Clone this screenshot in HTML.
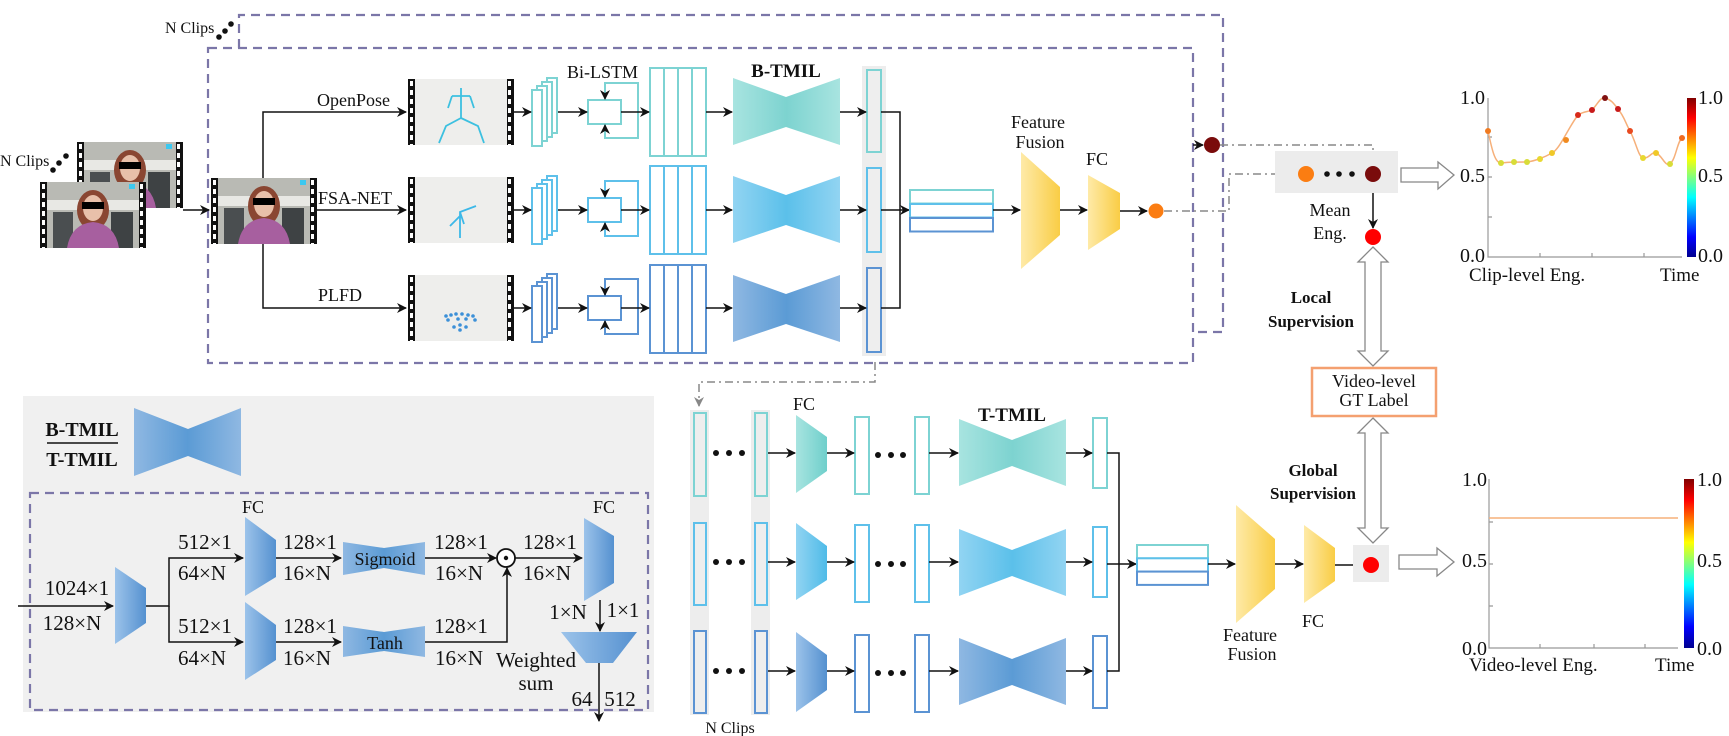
<!DOCTYPE html>
<html><head><meta charset="utf-8"><style>
html,body{margin:0;padding:0;background:#fff;}
svg{display:block;}
text{font-family:"Liberation Serif",serif;fill:#111;}
</style></head><body>
<svg width="1729" height="736" viewBox="0 0 1729 736" xmlns="http://www.w3.org/2000/svg">
<defs>
<marker id="ar" markerWidth="10" markerHeight="10" refX="9" refY="5" orient="auto" markerUnits="userSpaceOnUse"><path d="M0,0 L10,5 L0,10 L3,5 z" fill="#111"/></marker>
<marker id="ag" markerWidth="10" markerHeight="10" refX="9" refY="5" orient="auto" markerUnits="userSpaceOnUse"><path d="M0,0 L10,5 L0,10 L3,5 z" fill="#888"/></marker>
<pattern id="film" width="7" height="9" patternUnits="userSpaceOnUse"><rect width="7" height="9" fill="#111"/><rect x="2" y="2" width="3" height="5" fill="#fff"/></pattern>
<linearGradient id="g1" x1="0" x2="1"><stop offset="0" stop-color="#a8e4e0"/><stop offset="0.5" stop-color="#7dd3d0"/><stop offset="1" stop-color="#a8e4e0"/></linearGradient>
<linearGradient id="g2" x1="0" x2="1"><stop offset="0" stop-color="#92d4f2"/><stop offset="0.5" stop-color="#5bc0ea"/><stop offset="1" stop-color="#92d4f2"/></linearGradient>
<linearGradient id="g3" x1="0" x2="1"><stop offset="0" stop-color="#8fb8e2"/><stop offset="0.5" stop-color="#5b9bd5"/><stop offset="1" stop-color="#8fb8e2"/></linearGradient>
<linearGradient id="t1" x1="0" x2="1"><stop offset="0" stop-color="#a8e4e0"/><stop offset="1" stop-color="#6fcfcb"/></linearGradient>
<linearGradient id="t2" x1="0" x2="1"><stop offset="0" stop-color="#92d4f2"/><stop offset="1" stop-color="#4fbbe8"/></linearGradient>
<linearGradient id="t3" x1="0" x2="1"><stop offset="0" stop-color="#9cc3ea"/><stop offset="1" stop-color="#5591d0"/></linearGradient>
<linearGradient id="ty" x1="0" x2="1"><stop offset="0" stop-color="#feeaa8"/><stop offset="1" stop-color="#f9cd45"/></linearGradient>
<linearGradient id="jet" x1="0" y1="1" x2="0" y2="0"><stop offset="0" stop-color="#00008f"/><stop offset="0.125" stop-color="#0000ff"/><stop offset="0.375" stop-color="#00ffff"/><stop offset="0.625" stop-color="#ffff00"/><stop offset="0.875" stop-color="#ff0000"/><stop offset="1" stop-color="#800000"/></linearGradient>
<g id="photo">
<rect x="0" y="0" width="92" height="66" fill="#b9bab4"/>
<rect x="0" y="18" width="92" height="10" fill="#e8e8e4"/>
<rect x="6" y="30" width="20" height="36" fill="#4a4e50"/>
<rect x="64" y="30" width="22" height="36" fill="#3e4244"/>
<rect x="82" y="2" width="6" height="5" fill="#3cc8f0"/>
<ellipse cx="46" cy="28" rx="16" ry="20" fill="#8a4632"/>
<ellipse cx="46" cy="26" rx="10" ry="13" fill="#e8c0aa"/>
<rect x="35" y="20" width="22" height="7" fill="#000"/>
<path d="M20,66 Q24,42 46,40 Q68,42 72,66 z" fill="#a75f9f"/>
</g>
<g id="filmframe">
<rect x="0" y="0" width="106" height="66" fill="#eeeeec"/>
<rect x="0" y="0" width="7" height="66" fill="url(#film)"/>
<rect x="99" y="0" width="7" height="66" fill="url(#film)"/>
</g>
</defs>

<path d="M239,48 L239,15 L1223,15 L1223,332 L1193,332" fill="none" stroke="#7b76a8" stroke-width="2.2" stroke-dasharray="9,6"/>
<rect x="208" y="48" width="985" height="315" fill="none" stroke="#7b76a8" stroke-width="2.2" stroke-dasharray="9,6"/>

<text x="165" y="33" font-size="16">N Clips</text>
<circle cx="219" cy="37" r="2.8" fill="#111"/><circle cx="225" cy="31" r="2.8" fill="#111"/><circle cx="231" cy="24" r="2.8" fill="#111"/>
<text x="0" y="166" font-size="16">N Clips</text>
<circle cx="53" cy="170" r="2.8" fill="#111"/><circle cx="59" cy="163" r="2.8" fill="#111"/><circle cx="66" cy="156" r="2.8" fill="#111"/>

<g transform="translate(77,142)"><use href="#photo" transform="translate(7,0)"/><rect x="0" y="0" width="7" height="66" fill="url(#film)"/><rect x="99" y="0" width="7" height="66" fill="url(#film)"/></g>
<g transform="translate(40,182)"><use href="#photo" transform="translate(7,0)"/><rect x="0" y="0" width="7" height="66" fill="url(#film)"/><rect x="99" y="0" width="7" height="66" fill="url(#film)"/></g>
<line x1="183" y1="210" x2="209" y2="210" stroke="#111" stroke-width="1.5" marker-end="url(#ar)"/>
<g transform="translate(211,178)"><use href="#photo" transform="translate(7,0)"/><rect x="0" y="0" width="7" height="66" fill="url(#film)"/><rect x="99" y="0" width="7" height="66" fill="url(#film)"/></g>

<path d="M263,178 L263,112 L406,112" fill="none" stroke="#111" stroke-width="1.5" marker-end="url(#ar)"/>
<line x1="317" y1="210" x2="406" y2="210" stroke="#111" stroke-width="1.5" marker-end="url(#ar)"/>
<path d="M263,244 L263,308 L406,308" fill="none" stroke="#111" stroke-width="1.5" marker-end="url(#ar)"/>
<text x="317" y="106" font-size="18">OpenPose</text>
<text x="318" y="204" font-size="18">FSA-NET</text>
<text x="318" y="301" font-size="18">PLFD</text>

<use href="#filmframe" x="408" y="79"/>
<use href="#filmframe" x="408" y="177"/>
<use href="#filmframe" x="408" y="275"/>
<path d="M461,88 L461,96 M452,96 L470,96 M461,96 L461,118 L446,126 L439,143 M461,118 L478,126 L484,143 M452,96 L448,108 M470,96 L474,108" stroke="#3cc0e0" stroke-width="1.8" fill="none"/>
<path d="M460,238 L460,212 L476,206 M460,212 L464,224 M460,216 L450,226" stroke="#3cb8e8" stroke-width="1.8" fill="none"/>
<g fill="#3c90d8"><circle cx="446" cy="316" r="1.8"/><circle cx="451" cy="315" r="1.8"/><circle cx="456" cy="314" r="1.8"/><circle cx="462" cy="314" r="1.8"/><circle cx="468" cy="315" r="1.8"/><circle cx="473" cy="316" r="1.8"/><circle cx="448" cy="320" r="1.8"/><circle cx="458" cy="319" r="1.8"/><circle cx="466" cy="319" r="1.8"/><circle cx="475" cy="320" r="1.8"/><circle cx="460" cy="325" r="1.8"/><circle cx="454" cy="327" r="1.8"/><circle cx="466" cy="327" r="1.8"/><circle cx="460" cy="330" r="1.8"/></g>

<g stroke="#7dd3d3" stroke-width="2" fill="#fff">
<rect x="547" y="78" width="10" height="55"/><rect x="542" y="82" width="10" height="55"/><rect x="537" y="86" width="10" height="55"/><rect x="532" y="90" width="10" height="56"/>
<rect x="588" y="100" width="33" height="24"/>
<path d="M605,100 L605,83 L638,83 L638,138 L605,138 L605,124" fill="none"/>
<rect x="650" y="68" width="56" height="88" fill="none"/><path d="M664,68 V156 M678,68 V156 M692,68 V156"/>
</g>
<g stroke="#5ec0ea" stroke-width="2" fill="#fff">
<rect x="547" y="176" width="10" height="55"/><rect x="542" y="180" width="10" height="55"/><rect x="537" y="184" width="10" height="55"/><rect x="532" y="188" width="10" height="56"/>
<rect x="588" y="198" width="33" height="24"/>
<path d="M605,198 L605,181 L638,181 L638,236 L605,236 L605,222" fill="none"/>
<rect x="650" y="166" width="56" height="88" fill="none"/><path d="M664,166 V254 M678,166 V254 M692,166 V254"/>
</g>
<g stroke="#5b93d3" stroke-width="2" fill="#fff">
<rect x="547" y="274" width="10" height="55"/><rect x="542" y="278" width="10" height="55"/><rect x="537" y="282" width="10" height="55"/><rect x="532" y="286" width="10" height="56"/>
<rect x="588" y="296" width="33" height="24"/>
<path d="M605,296 L605,279 L638,279 L638,334 L605,334 L605,320" fill="none"/>
<rect x="650" y="265" width="56" height="88" fill="none"/><path d="M664,265 V353 M678,265 V353 M692,265 V353"/>
</g>
<text x="567" y="78" font-size="18">Bi-LSTM</text>
<text x="786" y="77" font-size="19" font-weight="bold" text-anchor="middle">B-TMIL</text>
<polygon points="733,78 786,97 840,78 840,145 786,127 733,145" fill="url(#g1)"/>
<polygon points="733,176 786,195 840,176 840,243 786,225 733,243" fill="url(#g2)"/>
<polygon points="733,275 786,294 840,275 840,342 786,324 733,342" fill="url(#g3)"/>
<rect x="862" y="66" width="24" height="290" fill="#ededed"/>
<rect x="867" y="70" width="14" height="82" fill="#eee" stroke="#7dd3d3" stroke-width="2"/>
<rect x="867" y="168" width="14" height="84" fill="#eee" stroke="#5ec0ea" stroke-width="2"/>
<rect x="867" y="268" width="14" height="84" fill="#eee" stroke="#5b93d3" stroke-width="2"/>
<g stroke="#111" stroke-width="1.5" marker-end="url(#ar)">
<line x1="514" y1="112" x2="531" y2="112"/><line x1="558" y1="112" x2="587" y2="112"/><line x1="621" y1="112" x2="649" y2="112"/><line x1="706" y1="112" x2="732" y2="112"/><line x1="840" y1="112" x2="866" y2="112"/>
<line x1="514" y1="210" x2="531" y2="210"/><line x1="558" y1="210" x2="587" y2="210"/><line x1="621" y1="210" x2="649" y2="210"/><line x1="706" y1="210" x2="732" y2="210"/><line x1="840" y1="210" x2="866" y2="210"/>
<line x1="514" y1="308" x2="531" y2="308"/><line x1="558" y1="308" x2="587" y2="308"/><line x1="621" y1="308" x2="649" y2="308"/><line x1="706" y1="308" x2="732" y2="308"/><line x1="840" y1="308" x2="866" y2="308"/>
</g>
<g stroke-width="1.3" marker-end="url(#ar)">
<line x1="605" y1="83" x2="605" y2="99" stroke="#7dd3d3"/><line x1="605" y1="138" x2="605" y2="125" stroke="#7dd3d3"/>
<line x1="605" y1="181" x2="605" y2="197" stroke="#5ec0ea"/><line x1="605" y1="236" x2="605" y2="223" stroke="#5ec0ea"/>
<line x1="605" y1="279" x2="605" y2="295" stroke="#5b93d3"/><line x1="605" y1="334" x2="605" y2="321" stroke="#5b93d3"/>
</g>
<path d="M881,112 H900 V308 H881" fill="none" stroke="#111" stroke-width="1.5"/>
<line x1="881" y1="210" x2="909" y2="210" stroke="#111" stroke-width="1.5" marker-end="url(#ar)"/>
<rect x="910" y="190" width="83" height="13.5" fill="#fff" stroke="#7dd3d3" stroke-width="2"/>
<rect x="910" y="204" width="83" height="13.5" fill="#fff" stroke="#5ec0ea" stroke-width="2"/>
<rect x="910" y="218" width="83" height="13.5" fill="#fff" stroke="#5b93d3" stroke-width="2"/>
<line x1="993" y1="210" x2="1020" y2="210" stroke="#111" stroke-width="1.5" marker-end="url(#ar)"/>
<text x="1038" y="128" font-size="18" text-anchor="middle">Feature</text>
<text x="1040" y="148" font-size="18" text-anchor="middle">Fusion</text>
<polygon points="1021,152 1060,187 1060,235 1021,269" fill="url(#ty)"/>
<line x1="1060" y1="210" x2="1087" y2="210" stroke="#111" stroke-width="1.5" marker-end="url(#ar)"/>
<text x="1097" y="165" font-size="18" text-anchor="middle">FC</text>
<polygon points="1088,175 1120,193 1120,229 1088,250" fill="url(#ty)"/>
<line x1="1120" y1="211" x2="1147" y2="211" stroke="#111" stroke-width="1.5" marker-end="url(#ar)"/>
<circle cx="1156" cy="211" r="7.5" fill="#fb7d12"/>
<path d="M1164,211 H1229 V174 H1296" fill="none" stroke="#888" stroke-width="1.5" stroke-dasharray="8,4,2,4" marker-end="url(#ag)"/>
<line x1="1193" y1="145" x2="1203" y2="145" stroke="#111" stroke-width="1.5" marker-end="url(#ar)"/>
<circle cx="1212" cy="145" r="8" fill="#7a0c0c"/>
<path d="M1220,145 H1373 V163" fill="none" stroke="#888" stroke-width="1.5" stroke-dasharray="8,4,2,4" marker-end="url(#ag)"/>
<rect x="1275" y="151" width="123" height="42" fill="#ececec"/>
<circle cx="1306" cy="174" r="8" fill="#fb7d12"/>
<circle cx="1327" cy="174" r="2.8" fill="#111"/><circle cx="1339" cy="174" r="2.8" fill="#111"/><circle cx="1352" cy="174" r="2.8" fill="#111"/>
<circle cx="1373" cy="174" r="8" fill="#7a0c0c"/>
<line x1="1373" y1="193" x2="1373" y2="228" stroke="#111" stroke-width="1.5" marker-end="url(#ar)"/>
<circle cx="1373" cy="237" r="8" fill="#f00"/>
<text x="1330" y="216" font-size="18" text-anchor="middle">Mean</text>
<text x="1330" y="239" font-size="18" text-anchor="middle">Eng.</text>
<polygon points="1373,247 1388,262 1381,262 1381,351 1388,351 1373,366 1358,351 1365,351 1365,262 1358,262" fill="#fff" stroke="#888" stroke-width="1.3"/>
<polygon points="1373,418 1388,433 1381,433 1381,528 1388,528 1373,543 1358,528 1365,528 1365,433 1358,433" fill="#fff" stroke="#888" stroke-width="1.3"/>
<text x="1311" y="303" font-size="17" font-weight="bold" text-anchor="middle">Local</text>
<text x="1311" y="327" font-size="17" font-weight="bold" text-anchor="middle">Supervision</text>
<text x="1313" y="476" font-size="17" font-weight="bold" text-anchor="middle">Global</text>
<text x="1313" y="499" font-size="17" font-weight="bold" text-anchor="middle">Supervision</text>
<rect x="1312" y="368" width="124" height="48" fill="#fff" stroke="#f4a070" stroke-width="2.5"/>
<text x="1374" y="387" font-size="18" text-anchor="middle">Video-level</text>
<text x="1374" y="406" font-size="18" text-anchor="middle">GT Label</text>
<polygon points="1401,168 1438,168 1438,162 1454,175 1438,189 1438,182 1401,182" fill="#fff" stroke="#888" stroke-width="1.3"/>
<polygon points="1399,555 1437,555 1437,548 1454,562 1437,576 1437,569 1399,569" fill="#fff" stroke="#888" stroke-width="1.3"/>

<g stroke="#999" stroke-width="1.2" fill="none"><path d="M1488,98 V257 H1682"/><path d="M1488,137 h4 M1488,177 h4 M1488,217 h4 M1540,257 v-4 M1592,257 v-4 M1644,257 v-4"/></g>
<text x="1485" y="104" font-size="20" text-anchor="end" fill="#333">1.0</text>
<text x="1485" y="182" font-size="20" text-anchor="end" fill="#333">0.5</text>
<text x="1485" y="262" font-size="20" text-anchor="end" fill="#333">0.0</text>
<rect x="1687" y="98" width="9" height="159" fill="url(#jet)"/>
<text x="1698" y="104" font-size="20" fill="#333">1.0</text>
<text x="1698" y="182" font-size="20" fill="#333">0.5</text>
<text x="1698" y="262" font-size="20" fill="#333">0.0</text>
<text x="1469" y="281" font-size="19" fill="#222">Clip-level Eng.</text>
<text x="1660" y="281" font-size="19" fill="#222">Time</text>
<path d="M1488,131 C1492,150 1495,163 1501,163 C1508,162 1520,162 1527,162 C1535,161 1545,157 1552,153 C1560,149 1568,128 1578,115 C1584,111 1588,112 1592,110 C1598,104 1600,97 1605,98 C1612,100 1614,104 1618,109 C1624,116 1626,124 1630,131 C1636,142 1638,156 1643,158 C1649,159 1652,151 1656,153 C1662,155 1665,167 1670,164 C1676,159 1677,142 1682,138" fill="none" stroke="#f6b07a" stroke-width="1.5"/>
<g>
<circle cx="1488" cy="131" r="3" fill="#f07a20"/><circle cx="1501" cy="163" r="3" fill="#d8dc38"/><circle cx="1514" cy="162" r="3" fill="#d8dc38"/><circle cx="1527" cy="162" r="3" fill="#d8dc38"/><circle cx="1540" cy="159" r="3" fill="#e8d830"/><circle cx="1552" cy="153" r="3" fill="#f0c828"/><circle cx="1566" cy="140" r="3" fill="#f08a20"/><circle cx="1578" cy="115" r="3" fill="#d82a1a"/><circle cx="1592" cy="110" r="3" fill="#c81a1a"/><circle cx="1605" cy="98" r="3" fill="#801010"/><circle cx="1618" cy="109" r="3" fill="#c81a1a"/><circle cx="1630" cy="131" r="3" fill="#e84a20"/><circle cx="1643" cy="158" r="3" fill="#e8d830"/><circle cx="1656" cy="153" r="3" fill="#f0c828"/><circle cx="1670" cy="164" r="3" fill="#d8dc38"/><circle cx="1682" cy="138" r="3" fill="#f06a20"/>
</g>
<g stroke="#999" stroke-width="1.2" fill="none"><path d="M1489,479 V648 H1678"/><path d="M1489,522 h4 M1489,564 h4 M1489,606 h4 M1540,648 v-4 M1594,648 v-4 M1645,648 v-4"/></g>
<line x1="1489" y1="518" x2="1678" y2="518" stroke="#f6b07a" stroke-width="1.5"/>
<text x="1487" y="486" font-size="20" text-anchor="end" fill="#333">1.0</text>
<text x="1487" y="567" font-size="20" text-anchor="end" fill="#333">0.5</text>
<text x="1487" y="655" font-size="20" text-anchor="end" fill="#333">0.0</text>
<rect x="1684" y="479" width="10" height="169" fill="url(#jet)"/>
<text x="1697" y="486" font-size="20" fill="#333">1.0</text>
<text x="1697" y="567" font-size="20" fill="#333">0.5</text>
<text x="1697" y="655" font-size="20" fill="#333">0.0</text>
<text x="1469" y="671" font-size="19" fill="#222">Video-level Eng.</text>
<text x="1655" y="671" font-size="19" fill="#222">Time</text>

<path d="M875,362 V382 H699 V406" fill="none" stroke="#888" stroke-width="1.5" stroke-dasharray="8,4,2,4" marker-end="url(#ag)"/>
<rect x="690" y="410" width="19" height="305" fill="#ededed"/>
<rect x="751" y="410" width="19" height="305" fill="#ededed"/>
<g fill="#eee" stroke-width="2">
<rect x="694" y="413" width="12" height="83" stroke="#7dd3d3"/><rect x="755" y="413" width="12" height="83" stroke="#7dd3d3"/>
<rect x="694" y="523" width="12" height="82" stroke="#5ec0ea"/><rect x="755" y="523" width="12" height="82" stroke="#5ec0ea"/>
<rect x="694" y="631" width="12" height="82" stroke="#5b93d3"/><rect x="755" y="631" width="12" height="82" stroke="#5b93d3"/>
</g>
<g fill="#fff" stroke-width="2">
<rect x="855" y="417" width="14" height="77" stroke="#7dd3d3"/><rect x="915" y="417" width="14" height="77" stroke="#7dd3d3"/><rect x="1093" y="418" width="14" height="70" stroke="#7dd3d3"/>
<rect x="855" y="525" width="14" height="77" stroke="#5ec0ea"/><rect x="915" y="525" width="14" height="77" stroke="#5ec0ea"/><rect x="1093" y="527" width="14" height="70" stroke="#5ec0ea"/>
<rect x="855" y="635" width="14" height="77" stroke="#5b93d3"/><rect x="915" y="635" width="14" height="77" stroke="#5b93d3"/><rect x="1093" y="636" width="14" height="72" stroke="#5b93d3"/>
</g>
<g fill="#111">
<circle cx="716" cy="453" r="3"/><circle cx="729" cy="453" r="3"/><circle cx="742" cy="453" r="3"/>
<circle cx="716" cy="562" r="3"/><circle cx="729" cy="562" r="3"/><circle cx="742" cy="562" r="3"/>
<circle cx="716" cy="671" r="3"/><circle cx="729" cy="671" r="3"/><circle cx="742" cy="671" r="3"/>
<circle cx="878" cy="455" r="3"/><circle cx="891" cy="455" r="3"/><circle cx="903" cy="455" r="3"/>
<circle cx="878" cy="564" r="3"/><circle cx="891" cy="564" r="3"/><circle cx="903" cy="564" r="3"/>
<circle cx="878" cy="673" r="3"/><circle cx="891" cy="673" r="3"/><circle cx="903" cy="673" r="3"/>
</g>
<polygon points="796,415 827,437 827,471 796,493" fill="url(#t1)"/>
<polygon points="796,523 827,546 827,580 796,600" fill="url(#t2)"/>
<polygon points="796,632 827,655 827,690 796,712" fill="url(#t3)"/>
<polygon points="959,419 1012,440 1066,419 1066,486 1012,466 959,486" fill="url(#g1)"/>
<polygon points="959,529 1012,550 1066,529 1066,596 1012,576 959,596" fill="url(#g2)"/>
<polygon points="959,638 1012,659 1066,638 1066,705 1012,685 959,705" fill="url(#g3)"/>
<text x="1012" y="421" font-size="19" font-weight="bold" text-anchor="middle">T-TMIL</text>
<text x="804" y="410" font-size="18" text-anchor="middle">FC</text>
<text x="730" y="733" font-size="16" text-anchor="middle">N Clips</text>
<g stroke="#111" stroke-width="1.5" marker-end="url(#ar)">
<line x1="768" y1="453" x2="795" y2="453"/><line x1="827" y1="453" x2="854" y2="453"/><line x1="929" y1="453" x2="958" y2="453"/><line x1="1066" y1="453" x2="1092" y2="453"/>
<line x1="768" y1="562" x2="795" y2="562"/><line x1="827" y1="562" x2="854" y2="562"/><line x1="929" y1="562" x2="958" y2="562"/><line x1="1066" y1="562" x2="1092" y2="562"/>
<line x1="768" y1="671" x2="795" y2="671"/><line x1="827" y1="671" x2="854" y2="671"/><line x1="929" y1="671" x2="958" y2="671"/><line x1="1066" y1="671" x2="1092" y2="671"/>
</g>
<path d="M1107,453 H1119 V671 H1107" fill="none" stroke="#111" stroke-width="1.5"/>
<line x1="1107" y1="564" x2="1136" y2="564" stroke="#111" stroke-width="1.5" marker-end="url(#ar)"/>
<rect x="1137" y="545" width="71" height="13.3" fill="#fff" stroke="#7dd3d3" stroke-width="2"/>
<rect x="1137" y="558.3" width="71" height="13.3" fill="#fff" stroke="#5ec0ea" stroke-width="2"/>
<rect x="1137" y="571.6" width="71" height="13.3" fill="#fff" stroke="#5b93d3" stroke-width="2"/>
<line x1="1208" y1="564" x2="1235" y2="564" stroke="#111" stroke-width="1.5" marker-end="url(#ar)"/>
<polygon points="1236,505 1275,539 1275,589 1236,623" fill="url(#ty)"/>
<text x="1250" y="641" font-size="18" text-anchor="middle">Feature</text>
<text x="1252" y="660" font-size="18" text-anchor="middle">Fusion</text>
<line x1="1275" y1="564" x2="1303" y2="564" stroke="#111" stroke-width="1.5" marker-end="url(#ar)"/>
<polygon points="1304,525 1335,548 1335,581 1304,603" fill="url(#ty)"/>
<text x="1313" y="627" font-size="18" text-anchor="middle">FC</text>
<line x1="1335" y1="565" x2="1362" y2="565" stroke="#111" stroke-width="1.5" marker-end="url(#ar)"/>
<rect x="1353" y="545" width="36" height="37" fill="#ececec"/>
<circle cx="1371" cy="565" r="8" fill="#f00"/>

<rect x="23" y="396" width="631" height="316" fill="#f0f0f0"/>
<text x="82" y="436" font-size="20" font-weight="bold" text-anchor="middle">B-TMIL</text>
<line x1="47" y1="443" x2="118" y2="443" stroke="#111" stroke-width="1.5"/>
<text x="82" y="466" font-size="20" font-weight="bold" text-anchor="middle">T-TMIL</text>
<polygon points="134,408 188,429 241,408 241,476 188,456 134,476" fill="url(#g3)"/>
<rect x="30" y="493" width="618" height="217" fill="none" stroke="#7b76a8" stroke-width="2.2" stroke-dasharray="9,6"/>
<text x="253" y="513" font-size="18" text-anchor="middle">FC</text>
<text x="604" y="513" font-size="18" text-anchor="middle">FC</text>
<g stroke="#111" stroke-width="1.5" fill="none">
<line x1="18" y1="606" x2="113" y2="606" marker-end="url(#ar)"/>
<path d="M146,606 H169 V558 H243" marker-end="url(#ar)"/>
<path d="M169,606 V642 H243" marker-end="url(#ar)"/>
<line x1="276" y1="558" x2="341" y2="558" marker-end="url(#ar)"/>
<line x1="276" y1="642" x2="341" y2="642" marker-end="url(#ar)"/>
<line x1="425" y1="558" x2="496" y2="558" marker-end="url(#ar)"/>
<path d="M425,642 H507 V568" marker-end="url(#ar)"/>
<line x1="515" y1="558" x2="582" y2="558" marker-end="url(#ar)"/>
<line x1="600" y1="600" x2="600" y2="631" marker-end="url(#ar)"/>
<line x1="599" y1="663" x2="599" y2="721" marker-end="url(#ar)"/>
</g>
<circle cx="506" cy="558" r="9" fill="#fff" stroke="#111" stroke-width="1.8"/>
<circle cx="506" cy="558" r="2.2" fill="#111"/>
<polygon points="115,567 146,588 146,623 115,644" fill="url(#t3)"/>
<polygon points="245,517 276,540 276,577 245,596" fill="url(#t3)"/>
<polygon points="245,602 276,625 276,660 245,680" fill="url(#t3)"/>
<polygon points="584,518 614,536 614,583 584,601" fill="url(#t3)"/>
<polygon points="343,542 384,548 425,542 425,575 384,568 343,575" fill="url(#g3)"/>
<polygon points="343,626 384,632 425,626 425,657 384,651 343,657" fill="url(#g3)"/>
<polygon points="561,632 637,632 613,663 586,663" fill="url(#t3)"/>
<text x="385" y="565" font-size="18" text-anchor="middle">Sigmoid</text>
<text x="385" y="649" font-size="18" text-anchor="middle">Tanh</text>
<g font-size="21" text-anchor="middle">
<text x="77" y="595">1024×1</text><text x="72" y="630">128×N</text>
<text x="205" y="549">512×1</text><text x="202" y="580">64×N</text>
<text x="205" y="633">512×1</text><text x="202" y="665">64×N</text>
<text x="310" y="549">128×1</text><text x="307" y="580">16×N</text>
<text x="310" y="633">128×1</text><text x="307" y="665">16×N</text>
<text x="461" y="549">128×1</text><text x="459" y="580">16×N</text>
<text x="461" y="633">128×1</text><text x="459" y="665">16×N</text>
<text x="550" y="549">128×1</text><text x="547" y="580">16×N</text>
<text x="568" y="619">1×N</text><text x="623" y="617">1×1</text>
<text x="536" y="667">Weighted</text><text x="536" y="690">sum</text>
<text x="582" y="706">64</text><text x="620" y="706">512</text>
</g>
</svg>
</body></html>
